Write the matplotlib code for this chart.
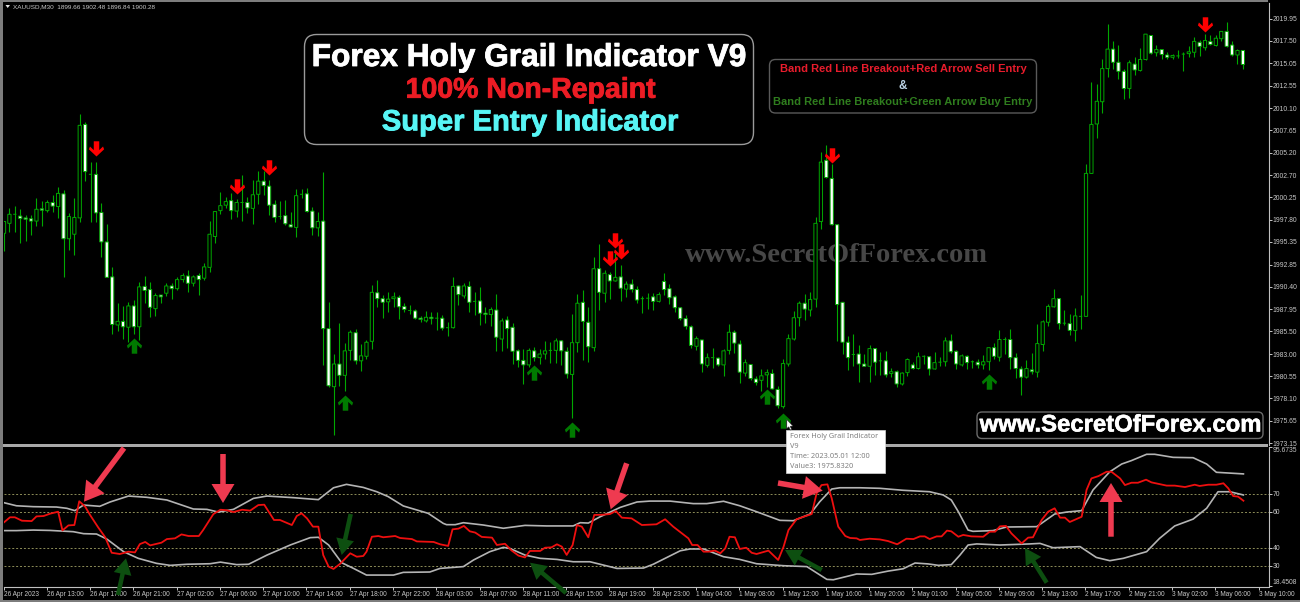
import numpy as np
import matplotlib
matplotlib.use("Agg")
import matplotlib.pyplot as plt
import matplotlib.patheffects as pe
from matplotlib.path import Path
from matplotlib.patches import FancyBboxPatch, FancyArrow, Rectangle, Polygon

opens = [
1996.3,1997.4,1998.4,1998.2,1998.0,1997.9,1997.65,1999.0,1998.8,1999.7,
1999.25,2000.65,1995.7,1996.2,1998.0,2008.3,2002.8,2002.8,1998.6,1995.35,
1991.5,1986.2,1986.6,1985.95,1988.3,1986.0,1990.45,1990.1,1988.0,1989.5,
1989.7,1990.5,1990.2,1991.2,1991.6,1990.8,1991.65,1991.35,1992.55,1995.95,
1998.8,1999.4,1999.9,1998.75,1999.7,1999.7,1999.05,2000.6,2002.05,2001.5,
1999.5,1998.15,1998.25,1997.25,1996.95,2000.6,2000.65,1998.75,1996.9,1997.65,
1985.8,1979.4,1981.9,1980.65,1983.4,1985.35,1982.25,1982.75,1984.4,1989.75,
1989.1,1988.75,1989.1,1989.25,1988.25,1987.8,1987.75,1986.95,1986.65,1987.05,
1986.95,1986.95,1985.9,1985.9,1990.5,1989.4,1990.45,1988.8,1988.85,1987.5,
1987.35,1987.85,1984.65,1986.75,1985.95,1983.35,1982.3,1981.8,1983.35,1982.6,
1983.0,1983.4,1983.4,1984.45,1983.3,1980.75,1984.25,1988.7,1986.5,1983.7,
1992.4,1989.7,1991.75,1991.05,1991.5,1990.15,1990.7,1990.1,1989.1,1989.15,
1989.3,1988.8,1991.0,1990.2,1989.3,1988.1,1986.9,1986.0,1983.85,1984.55,
1981.75,1982.6,1982.55,1981.8,1983.4,1985.4,1984.1,1980.9,1981.85,1980.25,
1980.1,1980.7,1980.85,1979.1,1977.2,1981.9,1984.65,1987.0,1988.6,1987.85,
1989.05,1997.6,2004.35,2002.35,1997.25,1988.7,1984.3,1982.95,1983.0,1981.9,
1981.65,1983.6,1982.25,1982.25,1980.85,1981.05,1979.7,1980.95,1981.8,1981.4,
1982.75,1982.7,1981.35,1982.1,1982.15,1984.45,1983.3,1981.8,1982.75,1982.15,
1982.1,1981.8,1982.15,1983.7,1982.65,1984.6,1984.6,1982.6,1981.35,1980.45,
1981.25,1981.0,1984.05,1986.5,1988.2,1989.1,1986.4,1986.35,1985.6,1987.15,
1987.15,2002.9,2008.35,2010.8,2014.45,2016.6,2015.15,2014.15,2012.25,2014.95,
2014.25,2015.45,2018.1,2016.2,2016.55,2015.95,2015.7,2015.85,2016.05,2016.1,
2016.25,2017.35,2016.75,2017.45,2017.0,2017.75,2018.55,2017.05,2015.95,2016.45]
highs = [
1997.6,1999.05,1999.3,1998.95,1998.3,1998.3,2000.15,1999.85,2000.0,2000.5,
2001.35,2001.05,1998.5,2000.15,2009.4,2008.55,2004.15,2004.15,1999.6,1997.3,
1992.55,1988.65,1988.3,1988.75,1989.0,1990.95,1991.6,1990.95,1989.75,1989.55,
1990.85,1990.8,1991.5,1991.95,1992.25,1991.7,1991.95,1993.0,1997.7,1998.8,
2000.9,2000.35,2000.7,2000.1,2002.75,2000.35,2002.2,2003.2,2003.2,2002.2,
2000.0,1999.85,2000.0,1998.7,2001.15,2001.15,2001.25,1999.25,1998.7,2003.1,
1988.75,1982.95,1986.4,1984.25,1985.65,1985.8,1984.1,1984.55,1990.65,1991.15,
1989.5,1989.85,1989.85,1989.5,1988.6,1988.4,1988.0,1987.2,1987.75,1987.65,
1987.65,1987.3,1986.55,1991.5,1990.6,1990.8,1991.05,1989.85,1990.35,1988.2,
1988.2,1989.6,1987.0,1987.2,1986.4,1983.5,1983.6,1983.7,1983.8,1983.6,
1984.4,1984.35,1984.8,1984.5,1983.8,1987.45,1989.65,1990.05,1988.2,1993.65,
1995.1,1992.25,1992.05,1994.1,1992.8,1991.0,1991.25,1990.5,1989.4,1989.75,
1989.7,1989.85,1991.9,1990.7,1989.5,1988.2,1987.3,1986.2,1985.0,1984.6,
1983.1,1983.7,1982.7,1983.6,1986.3,1985.65,1984.5,1982.5,1981.95,1980.55,
1981.3,1981.4,1981.3,1979.45,1982.4,1985.2,1987.75,1988.85,1989.6,1989.85,
1998.15,2005.3,2006.05,2003.95,1997.3,1988.75,1985.0,1985.2,1984.0,1983.05,
1984.0,1983.7,1983.25,1983.35,1981.5,1981.2,1981.05,1982.6,1982.15,1983.25,
1982.9,1982.75,1983.25,1982.7,1984.9,1985.25,1983.45,1983.0,1982.9,1982.3,
1982.4,1982.9,1983.8,1984.2,1985.7,1984.9,1985.8,1983.1,1981.65,1982.3,
1983.1,1986.35,1986.8,1988.5,1990.2,1989.2,1987.9,1987.45,1988.1,1989.45,
2003.9,2012.95,2012.8,2015.5,2019.35,2017.5,2017.05,2014.45,2015.4,2015.7,
2016.7,2018.3,2018.2,2017.05,2016.65,2016.3,2016.1,2016.5,2016.3,2016.95,
2017.9,2017.6,2018.25,2018.2,2018.15,2018.6,2019.55,2017.5,2016.65,2016.5]
lows = [
1994.4,1996.5,1996.5,1995.25,1995.4,1996.1,1997.1,1997.1,1998.7,1998.7,
1997.95,1991.5,1994.45,1993.9,1997.6,2002.05,1997.6,1997.6,1993.7,1991.45,
1985.25,1985.55,1984.7,1984.35,1985.25,1984.55,1988.6,1987.05,1987.2,1988.6,
1989.4,1989.1,1990.0,1990.95,1989.8,1990.5,1989.5,1991.15,1992.05,1995.25,
1998.4,1999.05,1997.85,1998.05,1997.7,1998.5,1997.3,1999.55,2000.5,1998.3,
1997.6,1997.85,1997.2,1996.95,1995.95,2000.15,1998.6,1996.1,1996.0,1981.8,
1979.4,1974.1,1979.45,1978.9,1982.3,1981.95,1981.1,1982.5,1983.6,1988.2,
1987.0,1987.65,1988.2,1986.85,1987.65,1987.4,1986.9,1986.5,1986.55,1986.3,
1985.65,1985.7,1985.0,1985.9,1988.45,1989.2,1987.65,1987.3,1986.2,1986.4,
1986.1,1983.3,1983.3,1983.65,1981.95,1981.6,1979.75,1981.6,1982.25,1981.85,
1982.45,1982.05,1982.05,1981.75,1980.4,1975.9,1983.25,1982.3,1982.1,1983.35,
1987.8,1988.75,1989.1,1991.05,1988.85,1989.3,1989.85,1988.65,1987.5,1988.0,
1987.9,1988.75,1989.5,1988.55,1987.65,1986.8,1985.75,1983.7,1983.45,1981.0,
1981.6,1981.5,1981.65,1980.6,1983.05,1983.15,1979.85,1980.55,1980.1,1979.55,
1978.9,1979.4,1979.1,1977.1,1977.0,1981.65,1984.55,1986.1,1986.8,1987.2,
1988.2,1996.75,2002.45,1997.25,1984.45,1983.05,1981.2,1981.65,1979.95,1981.65,
1979.95,1980.7,1980.7,1980.5,1980.5,1979.4,1979.55,1980.55,1981.3,1981.3,
1981.95,1980.7,1981.3,1981.65,1981.65,1983.15,1981.4,1981.65,1981.4,1981.5,
1981.5,1981.4,1981.2,1982.4,1982.25,1983.05,1981.4,1980.4,1978.45,1980.4,
1980.85,1980.45,1983.35,1986.05,1988.2,1985.8,1986.15,1985.15,1984.45,1985.8,
1987.15,2002.9,2006.8,2009.6,2013.5,2014.45,2013.3,2011.15,2011.25,2013.75,
2014.2,2015.4,2016.05,2015.85,2015.5,2015.5,2015.55,2015.65,2014.2,2015.7,
2015.75,2015.85,2016.55,2017.05,2016.95,2017.5,2016.85,2015.85,2015.0,2014.45]
closes = [
1997.6,1998.4,1998.4,1997.95,1997.85,1997.65,1998.95,1998.85,1999.7,1999.3,
2000.7,1995.7,1998.15,1998.05,2008.2,2003.1,2002.8,1998.55,1995.35,1991.45,
1986.25,1986.6,1986.0,1988.3,1986.0,1990.4,1990.0,1988.15,1989.45,1989.3,
1990.5,1990.2,1991.2,1991.65,1990.8,1991.5,1991.2,1992.6,1996.2,1998.7,
1999.35,1999.8,1998.8,1999.7,1999.7,1999.1,2000.55,2002.05,2001.55,1999.4,
1998.05,1998.15,1997.35,1997.0,2000.45,2000.6,1998.7,1996.9,1997.6,1985.8,
1979.5,1981.9,1980.65,1983.35,1985.4,1982.25,1982.8,1984.3,1989.8,1989.1,
1988.7,1989.05,1989.3,1988.2,1987.9,1987.8,1986.95,1986.8,1987.05,1986.9,
1986.95,1985.85,1985.9,1990.45,1989.55,1990.5,1988.7,1988.8,1987.5,1987.35,
1987.9,1984.85,1986.65,1985.8,1983.3,1982.3,1981.8,1983.4,1982.6,1983.0,
1983.35,1983.4,1984.45,1983.35,1980.8,1984.25,1988.6,1986.6,1983.8,1992.4,
1989.8,1991.9,1991.05,1991.45,1990.25,1990.7,1990.1,1988.95,1989.1,1989.15,
1988.8,1989.55,1990.1,1989.2,1988.1,1986.9,1986.05,1983.95,1984.7,1981.9,
1982.6,1982.6,1981.8,1983.35,1985.4,1984.2,1981.0,1982.05,1980.3,1979.85,
1980.6,1980.95,1979.15,1977.3,1981.95,1984.7,1987.0,1988.6,1987.95,1989.0,
1997.4,2004.15,2002.45,1997.25,1988.45,1984.3,1982.6,1982.95,1981.9,1981.65,
1983.6,1982.1,1982.25,1980.7,1981.05,1979.7,1980.9,1982.4,1981.4,1982.7,
1982.75,1981.35,1982.05,1982.1,1984.45,1983.25,1981.9,1982.8,1982.05,1982.15,
1981.8,1982.15,1983.7,1982.75,1984.6,1984.6,1982.6,1981.4,1980.45,1981.4,
1981.05,1984.15,1986.55,1988.25,1989.1,1986.35,1986.4,1985.6,1987.2,1987.15,
2002.9,2008.3,2010.85,2014.45,2016.6,2015.15,2014.15,2012.25,2015.1,2014.3,
2015.45,2018.25,2016.15,2016.55,2016.0,2015.7,2015.9,2015.85,2016.05,2016.3,
2017.45,2016.9,2017.55,2017.1,2017.8,2018.55,2016.9,2015.95,2016.45,2014.9]

sell_bars = [17, 43, 49, 112, 113, 114, 153, 222]
sell_prices = [2004.8, 2000.6, 2002.7, 1992.7, 1994.7, 1993.5, 2004.1, 2018.45]
buy_bars = [24, 63, 98, 105, 141, 144, 182]
buy_prices = [1984.75, 1978.5, 1981.8, 1975.5, 1979.2, 1976.55, 1980.75]

price_ticks = [2019.95,2017.50,2015.05,2012.55,2010.10,2007.65,2005.20,2002.70,2000.25,1997.80,
               1995.35,1992.85,1990.40,1987.95,1985.50,1983.00,1980.55,1978.10,1975.65,1973.15]
time_labels = ["26 Apr 2023","26 Apr 13:00","26 Apr 17:00","26 Apr 21:00","27 Apr 02:00","27 Apr 06:00",
               "27 Apr 10:00","27 Apr 14:00","27 Apr 18:00","27 Apr 22:00","28 Apr 03:00","28 Apr 07:00",
               "28 Apr 11:00","28 Apr 15:00","28 Apr 19:00","28 Apr 23:00","1 May 04:00","1 May 08:00",
               "1 May 12:00","1 May 16:00","1 May 20:00","2 May 01:00","2 May 05:00","2 May 09:00",
               "2 May 13:00","2 May 17:00","2 May 21:00","3 May 02:00","3 May 06:00","3 May 10:00"]
level_values = [70, 60, 40, 30]
ind_ticks = [95.6735, 70, 60, 40, 30, 18.4508]
ind_labels = ["95.6735", "70", "60", "40", "30", "18.4508"]

red_x = [0,1.1,2,3.3,5.1,6,7.3,8.5,10,10.8,11.9,13,13.9,15,15.9,17.4,18.7,19.9,21.4,23,24.2,25.1,26.1,27,29.1,30.1,31.6,32.8,34.1,36,
 36.8,38.7,40,41.2,42.4,44,45.5,47,48.1,49.9,51,53.2,54.1,55,56,57.1,58.1,59,60,60.9,62.1,64,65.2,66.4,67,68,69.2,70.1,72.3,73.2,
 75.4,76.3,79.4,80.6,82.1,82.9,84,85,86.1,87.1,88.3,90.2,91.1,92.6,93.8,95.1,96.3,97.2,99.1,100,101.2,102.2,103.1,104,105.1,105.9,106.8,108,109.1,110.5,
 112,113.1,114.2,116,117.9,120.6,122.2,123.7,126.5,127.2,128.2,129.3,130.2,131.4,132.4,133.3,134.1,135.1,136,137.2,138.2,139.1,141.3,143.1,144.1,145,146.5,147.8,149.3,150.2,
 151.1,152.2,153,154.2,155.5,156.4,157.6,158.2,160,161.9,163.4,165.1,166.8,168.1,169.3,170.2,171.1,172.4,173.3,174.3,175.1,176.4,177.3,178.8,181,182.2,183.2,184.1,185.2,186.2,
 188.1,189.3,190.2,191.8,193,194.2,195.2,196.1,197,199.2,200.1,201,202.3,203.8,204.7,206.3,207.2,208.4,209.6,211.1,212.1,214.9,216.4,218.3,220.1,221,222.6,224.1,225.4,226.3,227.2,228.1,229.1]
red_v = [54.1,56.9,56.9,55,54.8,57.4,57.6,58.9,60,49.6,52.4,52.6,65.8,62.8,58.2,51.3,45.8,37.2,36.5,37.8,37.4,42,43.2,41.3,42.8,44.8,45.2,47.4,46.5,46.5,
 49.8,58.7,61.1,60.8,59.8,61.1,60.6,63.7,63.9,55.4,55.4,52.6,57.6,59.1,56.3,51.7,51.7,35.9,29.5,28.2,31,36.9,35,35.4,37.8,46.1,46.5,45.8,46.5,45.4,
 44.8,43.5,43.2,41.9,41,50.2,50.6,52.1,49.1,48.4,46,45.6,41.5,42.2,38.5,35.6,34.6,38.2,38.2,40,40.2,41.9,40.6,36,41.5,52.6,51.7,45.8,58.2,58.3,
 58.7,60.4,56.7,56.3,52.6,53,55.8,51.7,45.2,41.5,41.5,37.8,37.8,38.4,36.9,39.6,46.1,45.8,39.3,40,37.2,36.5,38.4,33.2,40.6,49.8,55.8,57.2,58.7,70.2,
 74.8,75.2,67.4,51.7,46.5,45.4,45.2,44.3,45,44.6,43.7,41.9,45,44.8,46.3,46.3,44.8,46.3,46.3,49.5,49.1,46.1,47.1,46.3,46.1,48.9,48.9,51.9,52.1,48,
 42.4,45.6,45.8,55.4,60,61.9,56.7,56.7,54.3,57.2,72.1,78.5,79.8,82.2,82.2,78.5,74.8,76.1,76.1,77.8,76.3,74.5,74.5,73.7,75,74.3,75,75,75.8,73,68.7,68.4,66.1]

upper_x = [0,2.3,5.4,9.7,11.6,13.1,14.7,17.7,19.6,23,26.4,30.1,35,37.5,39.6,42.4,46.1,48.6,53.5,58.1,60.9,63.3,66.4,68.9,71,73.8,78.4,81.2,81.8,83.4,
 84.9,88.6,92.3,96.3,100.3,105.2,106.5,108,110.2,113.9,117,119.4,123.1,127.4,129.9,133,136,139.1,143.4,145.9,149,150.8,153,154.5,158.2,161.9,166.2,171.1,173.6,175.1,
 176.4,178.2,179.1,182.8,185.3,190.9,194.2,196.4,199.2,201.3,204.4,206.6,208.4,211.2,212.7,216.1,219.8,222.3,224.1,229.1]
upper_v = [65,63.3,62.8,62.6,61.9,60.6,63.7,63,65.4,68.7,68,66.5,61.5,61.3,59.8,61.3,67.4,68.7,67.8,66.7,73.3,75.2,73.5,71.1,68.4,63.2,59.1,53.5,52.8,52.8,
 53.9,52.6,50.8,52.4,52.1,52.1,53.9,53.7,57.2,62.4,65.4,65.9,65.9,64.5,64.5,65.8,63.3,60,55.2,55,58.7,65.6,72.6,73.3,73.3,73,71.9,71.1,69.3,66.5,
 60,49.8,49.1,49.5,51.5,51.7,58.7,59.8,60.6,72.1,82.2,86.5,88.4,91.9,91.9,90.2,90,86.5,81.9,81]

lower_x = [0,2.3,5.4,8.5,12.8,14.7,17.1,19,22.1,24.8,28.2,30.7,33.8,38.1,40,43,45.2,48.6,52.9,56.6,58.1,60,62.4,64.6,67,72,73.8,78.7,80.6,84.9,
 86.8,89.8,92.3,93.5,96.3,99.1,102.2,105.2,108.3,113.3,118.2,120,125,126.8,129.3,133,136,139.1,144.1,148.4,152.1,153.3,157.6,160.4,163.4,166.2,168.4,170.8,172.7,175.1,
 176.7,178.2,179.8,184.1,189.6,191.5,193.9,198.9,201.9,204.4,206.9,211.2,213.6,216.4,219.8,222.3,224.4,226.6,229.1]
lower_v = [49.5,49.5,49.8,49.6,48.9,47.8,47.6,44.8,37.8,34.1,31.3,30.2,30.8,31.1,32,30.6,30.8,35.9,41.5,45.6,45.8,41.5,31.7,28.5,24.8,24.8,26.3,26.5,28.5,29.5,
 33.2,37.8,40.2,39.6,35.9,34.1,33.5,32.2,32.2,28.5,28.7,30.8,38.3,39.3,39.3,35,33.5,31.1,30,29.5,22.4,22.2,25.4,25.2,27,28.3,31.5,31,30.2,30.6,
 35.9,41.5,42.1,41.5,42.1,42.4,40,40.6,34.6,32.8,34.1,37.8,45.2,52.1,55.9,61.9,71.1,71.1,69.3]

W, H = 1300, 602
BG = "#000000"
CANDLE = "#00a800"
ARIAL = "Liberation Sans"

fig = plt.figure(figsize=(W / 100, H / 100), dpi=100, facecolor=BG)

def box(l, t, r, b):
    return [l / W, 1 - b / H, (r - l) / W, (b - t) / H]

x_lim = ((3.5 - 4) / 5.41, (1268.5 - 4) / 5.41)

# main price pane
ax = fig.add_axes(box(3.5, 3, 1268.5, 444.5), zorder=2)
ax.patch.set_alpha(0)
ax.set_xlim(*x_lim)
ax.set_ylim(2019.95 - (444.5 - 18.7) / 9.075, 2019.95 + (18.7 - 3) / 9.075)
x = np.arange(len(opens))
o, h, l, c = map(np.array, (opens, highs, lows, closes))
ax.vlines(x, l, h, color=CANDLE, lw=0.8, zorder=3)
bars = ax.bar(x, np.abs(c - o), bottom=np.minimum(o, c), width=0.6,
              facecolor=["#ffffff" if cc < oo else "#000000" for oo, cc in zip(o, c)],
              edgecolor=CANDLE, linewidth=0.7, zorder=4)
for b in bars:
    b.set_snap(False)

down = Path([(0, 0), (0.5, 0.47), (0.43, 0.66), (0.18, 0.42), (0.18, 1), (-0.18, 1),
             (-0.18, 0.42), (-0.43, 0.66), (-0.5, 0.47), (0, 0)], closed=True)
up = Path([(vx, -vy) for vx, vy in down.vertices], closed=True)
ax.scatter(sell_bars, sell_prices, marker=down, s=480, color="#ff0000", linewidths=0, zorder=5)
ax.scatter(buy_bars, buy_prices, marker=up, s=480, color="#007a00", linewidths=0, zorder=5)

ax.set_xticks([])
ax.set_yticks(price_ticks)
ax.set_yticklabels([f"{v:.2f}" for v in price_ticks])
ax.yaxis.tick_right()
ax.tick_params(axis="y", colors="#c8c8c8", length=2, width=0.7, pad=1, labelsize=4.9)
for lab in ax.get_yticklabels():
    lab.set_fontfamily(ARIAL)
for name, sp in ax.spines.items():
    sp.set_visible(name == "right")
    sp.set_color("#c0c0c0")
    sp.set_linewidth(0.8)

# indicator pane
axi = fig.add_axes(box(3.5, 447.5, 1268.5, 586.5), zorder=2)
axi.patch.set_alpha(0)
axi.set_xlim(*x_lim)
axi.set_ylim(18.4508, 95.6735)
axi.hlines(level_values, *x_lim, color="#8d8d58", lw=0.7, linestyles=(0, (2, 2)), zorder=1)
axi.plot(upper_x, upper_v, color="#b4b4b4", lw=1.2, zorder=3)
axi.plot(lower_x, lower_v, color="#b4b4b4", lw=1.2, zorder=3)
axi.plot(red_x, red_v, color="#ee0f0f", lw=1.3, zorder=4)
axi.set_yticks(ind_ticks)
axi.set_yticklabels(ind_labels)
axi.yaxis.tick_right()
axi.tick_params(axis="y", colors="#c8c8c8", length=2, width=0.7, pad=1, labelsize=4.9)
ylabs = axi.get_yticklabels()
for lab in ylabs:
    lab.set_fontfamily(ARIAL)
ylabs[0].set_va("top")
ylabs[-1].set_va("bottom")
axi.set_xticks(np.arange(len(time_labels)) * 8 - 0.1)
axi.set_xticklabels(time_labels, ha="left", fontfamily=ARIAL)
axi.tick_params(axis="x", colors="#c8c8c8", length=2, width=0.7, pad=1, labelsize=4.7)
for name, sp in axi.spines.items():
    sp.set_visible(name in ("right", "bottom"))
    sp.set_color("#c0c0c0")
    sp.set_linewidth(0.8)

# background watermark, behind the candles
fig.text(836 / W, 1 - 256 / H, "www.SecretOfForex.com", color="#474747", fontsize=20.5,
         fontfamily="Liberation Serif", fontweight="bold", ha="center", va="center", zorder=1)

# overlay: frame, notes and drawn annotations, in pixel coordinates
ov = fig.add_axes([0, 0, 1, 1], zorder=5)
ov.set_xlim(0, W)
ov.set_ylim(H, 0)
ov.axis("off")
ov.patch.set_alpha(0)
for rect in [(0, 0, 3, H, "#7d7d7d"), (0, 0, 1268, 2.2, "#7d7d7d"), (3, 444.4, 1265, 2.4, "#a8a8a8"),
             (0, 599.5, W, 2.5, "#7d7d7d")]:
    ov.add_patch(Rectangle(rect[:2], rect[2], rect[3], fc=rect[4], ec="none"))

ov.text(13, 6.7, "XAUUSD,M30  1899.66 1902.48 1896.84 1900.28", color="#c8c8c8", fontsize=4.6,
        fontfamily=ARIAL, va="center", ha="left")
ov.add_patch(Polygon([(5.5, 5), (10, 5), (7.7, 8)], fc="#e8e8e8", ec="none"))

def rounded(l, t, r, b, rad, ec, lw=1.0):
    ov.add_patch(FancyBboxPatch((l + rad, t + rad), r - l - 2 * rad, b - t - 2 * rad,
                                boxstyle=f"round,pad={rad},rounding_size={rad}",
                                fc="#000000", ec=ec, lw=lw, zorder=2))

def heavy(color, width=0.6):
    return [pe.withStroke(linewidth=width, foreground=color)]

rounded(304.5, 34.5, 753.5, 144.5, 12, "#9a9a9a")
ov.text(529, 58, "Forex Holy Grail Indicator V9", color="white", fontsize=22.8, fontweight="bold",
        fontfamily=ARIAL, ha="center", va="center", zorder=3, path_effects=heavy("white"))
ov.text(530.5, 90.7, "100% Non-Repaint", color="#ec1c24", fontsize=20.5, fontweight="bold",
        fontfamily=ARIAL, ha="center", va="center", zorder=3, path_effects=heavy("#ec1c24"))
ov.text(530, 122.3, "Super Entry Indicator", color="#57f5f5", fontsize=21, fontweight="bold",
        fontfamily=ARIAL, ha="center", va="center", zorder=3, path_effects=heavy("#57f5f5"))

rounded(769.5, 59.5, 1036.5, 113, 6, "#5a5a5a")
ov.text(903, 69.3, "Band Red Line Breakout+Red Arrow Sell Entry", color="#e81c2c", fontsize=8.0,
        fontweight="bold", fontfamily=ARIAL, ha="center", va="center", zorder=3)
ov.text(903, 86, "&", color="#bcd4e6", fontsize=8.5, fontweight="bold", fontfamily=ARIAL,
        ha="center", va="center", zorder=3)
ov.text(903, 102.3, "Band Red Line Breakout+Green Arrow Buy Entry", color="#2f7d1e", fontsize=8.0,
        fontweight="bold", fontfamily=ARIAL, ha="center", va="center", zorder=3)

rounded(977, 412, 1263, 438.5, 5, "#6a6a6a")
ov.text(1120.5, 425, "www.SecretOfForex.com", color="white", fontsize=17.2, fontweight="bold",
        fontfamily=ARIAL, ha="center", va="center", zorder=3, path_effects=heavy("white", 0.4))

# tooltip and pointer
ov.add_patch(Rectangle((786, 430), 99, 43, fc="#ffffff", ec="#d8d8d8", lw=0.5, zorder=6))
for ty, t in zip((437, 446.5, 456.5, 466), ("Forex Holy Grail Indicator", "V9", "Time: 2023.05.01 12:00",
                                           "Value3: 1975.8320")):
    ov.text(790, ty, t, color="#808080", fontsize=5.3, fontfamily="Noto Sans", va="center", ha="left", zorder=7)
ov.add_patch(Polygon([(786.8, 419.5), (786.8, 428.5), (788.8, 426.8), (790.3, 430), (791.6, 429.4),
                      (790.2, 426.3), (792.8, 426)], fc="white", ec="#303030", lw=0.4, zorder=8))

PINK = "#ef3a50"
DGREEN = "#0d4f10"
pink_arrows = [((124, 448), (84, 501.7)), ((223, 454), (223, 503)), ((626.7, 463.3), (610.7, 509.3)),
               ((778, 483), (822.7, 490.7)), ((1111, 536.7), (1111, 483))]
green_arrows = [((118, 595), (126, 558.3)), ((350.7, 514), (341.7, 555)), ((566, 593), (530, 562.7)),
                ((821.7, 570), (785, 550)), ((1046.7, 582.7), (1025, 548))]
for (x0, y0), (x1, y1) in pink_arrows:
    ov.add_patch(FancyArrow(x0, y0, x1 - x0, y1 - y0, width=5.5, head_width=23, head_length=19,
                            length_includes_head=True, fc=PINK, ec="none", zorder=5))
for (x0, y0), (x1, y1) in green_arrows:
    ov.add_patch(FancyArrow(x0, y0, x1 - x0, y1 - y0, width=4.5, head_width=18, head_length=16,
                            length_includes_head=True, fc=DGREEN, ec="none", zorder=5))

fig.savefig("out.png", dpi=100, facecolor=BG)
